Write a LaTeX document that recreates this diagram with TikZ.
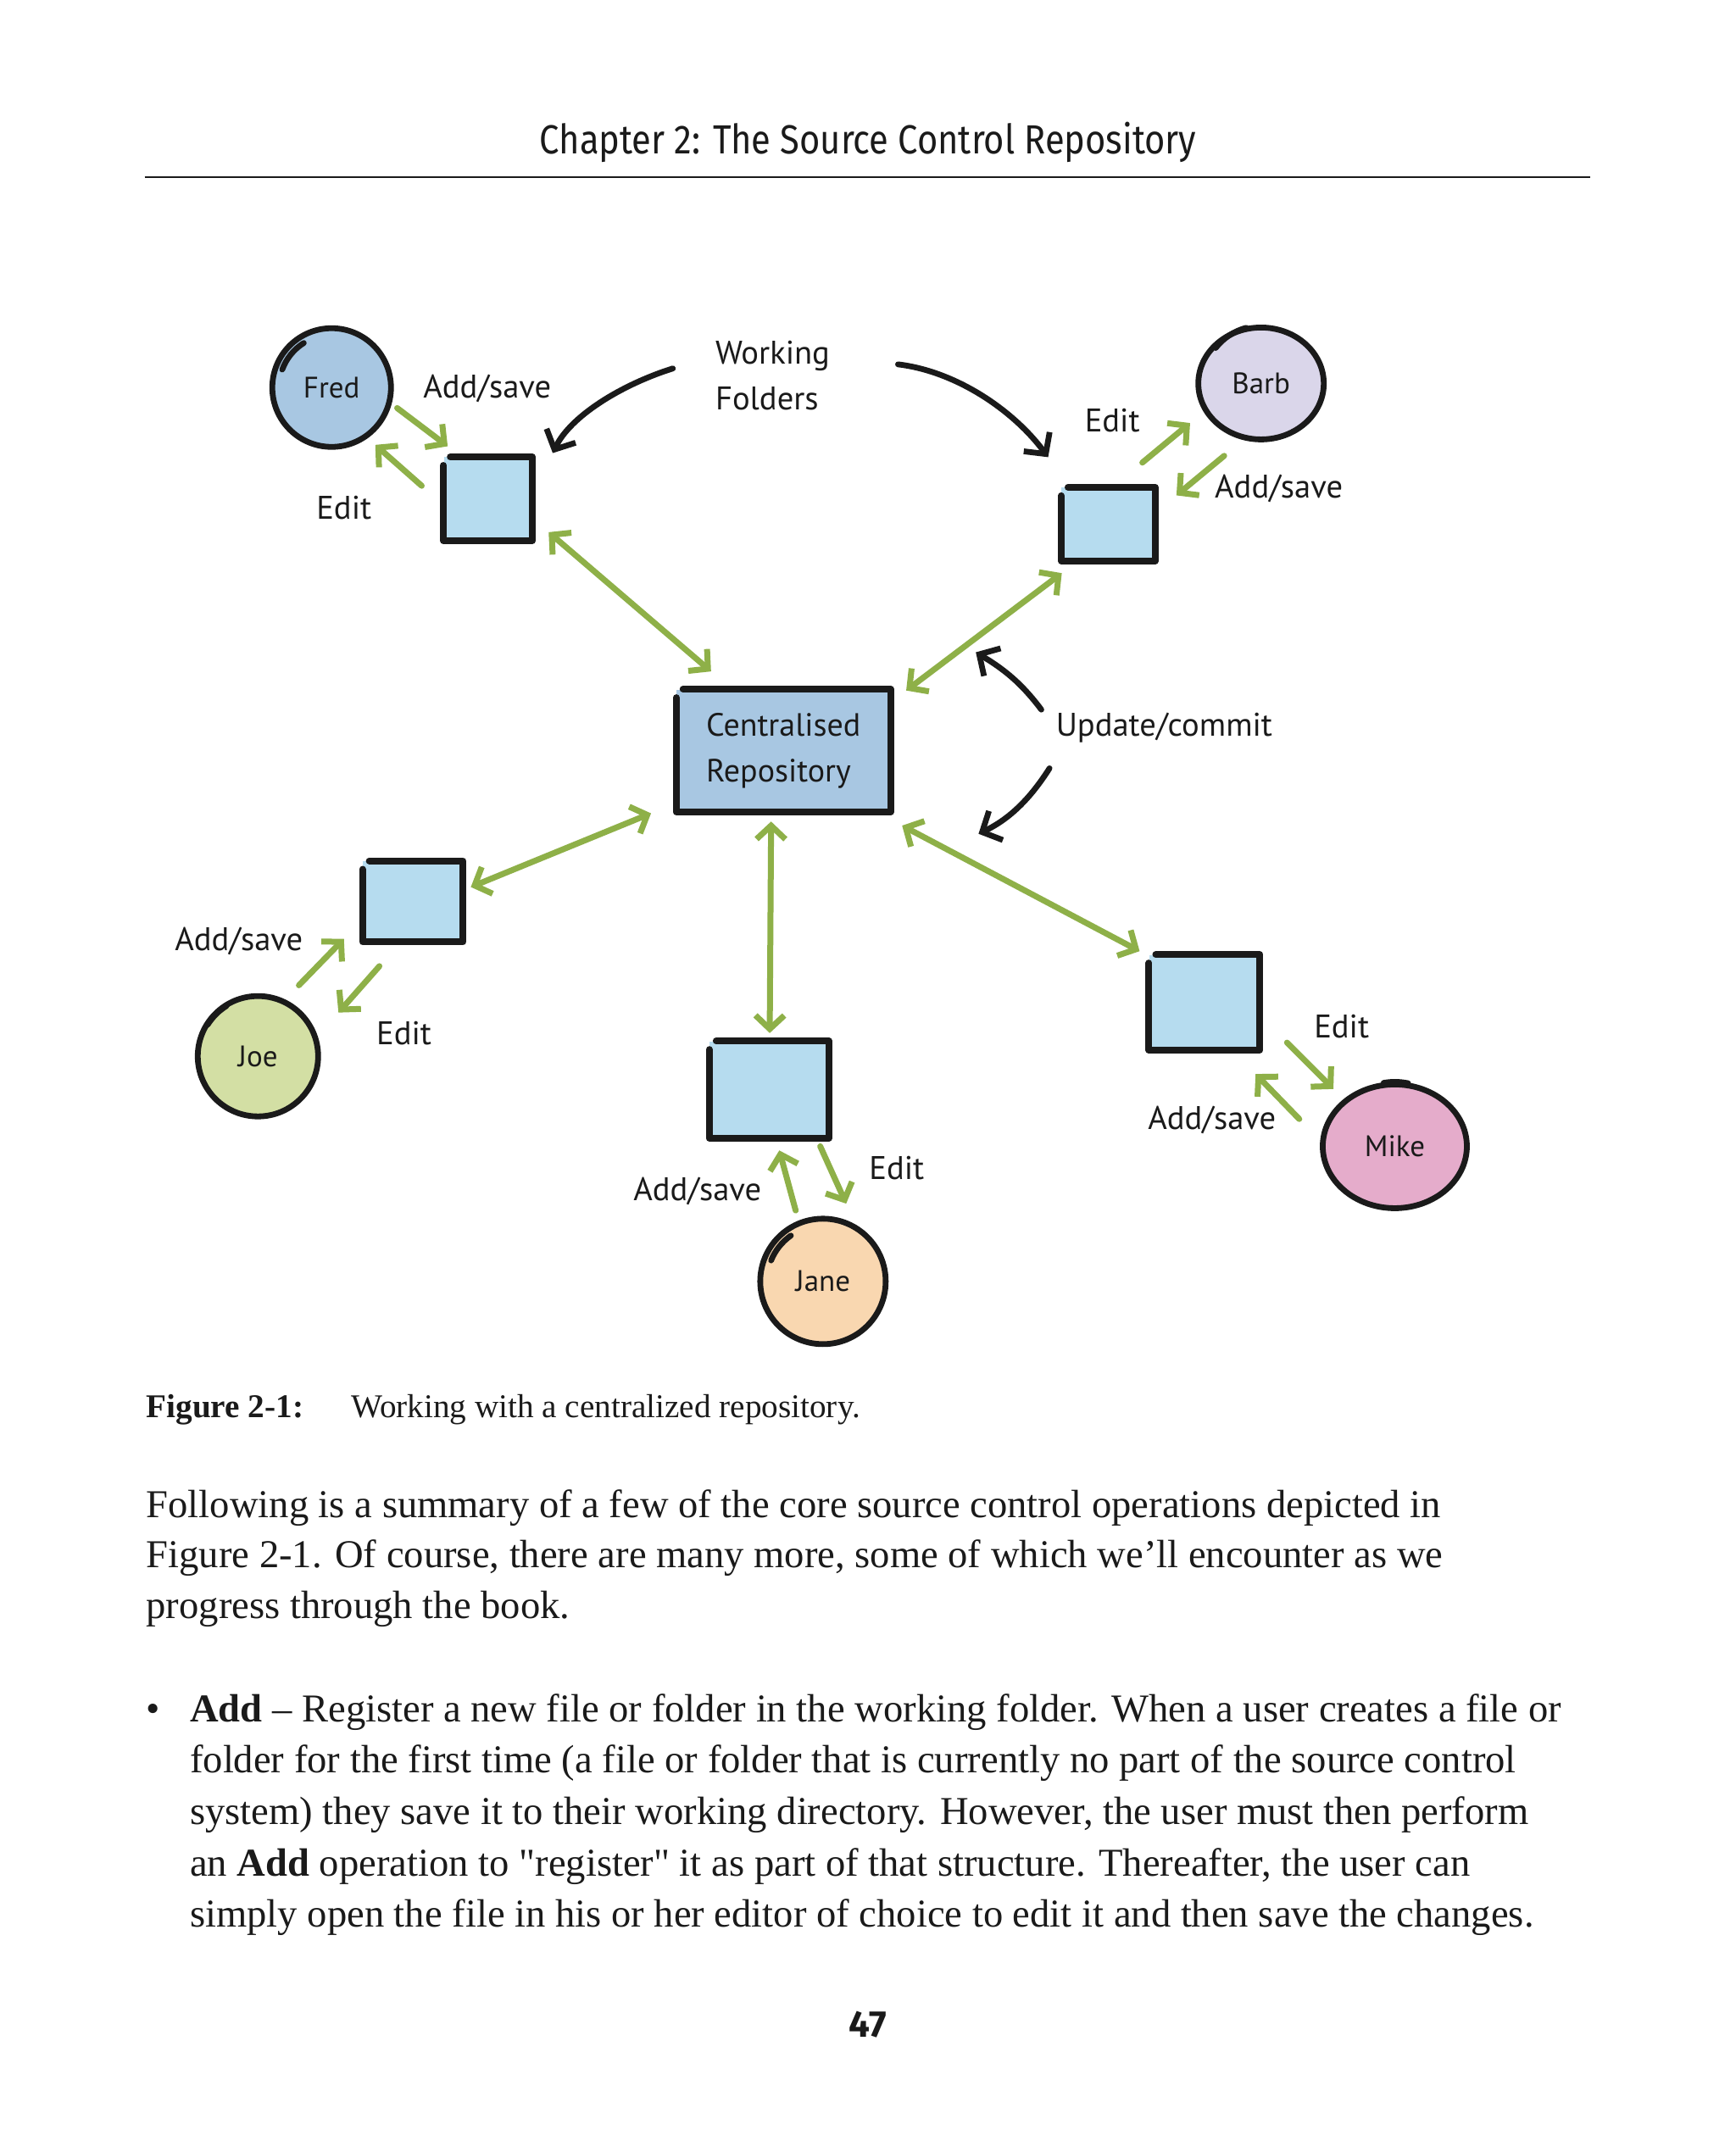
\documentclass[tikz,border=0pt]{standalone}
\usepackage{fontspec}
\setmainfont{Liberation Serif}
\newfontfamily\handfont{PT Sans}
\newfontfamily\headfont{Fira Sans}
\usetikzlibrary{arrows.meta,shapes.geometric}
\definecolor{grn}{RGB}{142,176,72}
\definecolor{repoblue}{RGB}{168,199,226}
\definecolor{fredc}{RGB}{168,199,226}
\definecolor{wfblue}{RGB}{182,220,239}
\definecolor{barbc}{RGB}{218,214,234}
\definecolor{joec}{RGB}{211,223,164}
\definecolor{janec}{RGB}{249,215,176}
\definecolor{mikec}{RGB}{229,172,203}
\definecolor{ink}{RGB}{26,26,26}
\newcommand\bodyfs{\fontsize{23.3}{27}\selectfont}
\newcommand\capfs{\fontsize{19.6}{23}\selectfont}
\newcommand\sq{\XeTeXglyph\XeTeXcharglyph"0022\relax}
\begin{document}
\begin{tikzpicture}[x=0.805pt,y=-0.805pt,
  wfbox/.style={fill=wfblue, inner sep=0pt},
  boxline/.style={draw=ink, line width=4pt, line cap=round, line join=round},
  person/.style={circle, draw=ink, line width=3.4pt, inner sep=0pt, text=ink, font=\handfont\fontsize{17.5}{20}\selectfont},
  lbl/.style={font=\handfont\fontsize{19.3}{27}\selectfont, text=ink, inner sep=0pt},
  garr/.style={draw=grn, line width=3.5pt, line cap=round, -{Straight Barb[length=8pt,width=17pt]}},
  gdbl/.style={draw=grn, line width=3.5pt, line cap=round, {Straight Barb[length=8pt,width=17pt]}-{Straight Barb[length=8pt,width=17pt]}},
  barr/.style={draw=ink, line width=3.4pt, line cap=round, -{Straight Barb[length=9pt,width=19pt]}},
  tail/.style={draw=ink, line width=3.4pt, line cap=round},
  body/.style={anchor=base west, inner sep=0pt, text=ink, font=\bodyfs}
]
\useasboundingbox[fill=white] (0,0) rectangle (1272,1568.9);

% header
\node[anchor=base, inner sep=0pt, text=ink, font=\headfont\fontsize{24}{28}\selectfont] (hdr) at (636,113)
  {\scalebox{0.868}[1]{Chapter 2: The Source Control Repository}};
\draw[ink, line width=1.2pt] (106,130) coordinate (r1) -- (1165,130) coordinate (r2);

% people
\node[person, fill=fredc, minimum size=70pt] (fred) at (243,284) {Fred};
\node[person, ellipse, fill=barbc, minimum width=74pt, minimum height=66pt] (barb) at (924,281) {Barb};
\node[person, fill=joec, minimum size=71pt] (joe) at (189,774) {Joe};
\node[person, fill=janec, minimum size=74pt] (jane) at (603,939) {Jane};
\node[person, ellipse, fill=mikec, minimum width=85pt, minimum height=73pt] (mike) at (1022,840) {Mike};

% tails of the hand-drawn circles
\draw[tail] ([shift={(160:31pt)}]fred.center) arc[start angle=160, end angle=122, radius=31pt];
\draw[tail] ([shift={(142:34pt)}]barb.center) arc[start angle=142, end angle=105, radius=34pt];
\draw[tail] ([shift={(148:35pt)}]joe.center) arc[start angle=148, end angle=122, radius=35pt];
\draw[tail] ([shift={(158:33pt)}]jane.center) arc[start angle=158, end angle=125, radius=33pt];
\draw[tail] ([shift={(100:38pt)}]mike.center) arc[start angle=100, end angle=78, radius=38pt];

% working folders and repository
\node[wfbox, minimum width=52pt, minimum height=49pt] (wfred) at (357.5,365.5) {};
\node[wfbox, minimum width=55pt, minimum height=43pt] (wbarb) at (812,384) {};
\node[wfbox, fill=repoblue, minimum width=126pt, minimum height=72pt, align=left, text=ink,
      font=\handfont\fontsize{19}{27}\selectfont] (repo) at (574,550) {Centralised\\Repository};
\node[wfbox, minimum width=59pt, minimum height=47.5pt] (wjoe) at (302.5,660.5) {};
\node[wfbox, minimum width=70pt, minimum height=57pt] (wjane) at (563.5,798.5) {};
\node[wfbox, minimum width=65pt, minimum height=56pt] (wmike) at (882.5,734.5) {};
\foreach \b in {wfred,wbarb,repo,wjoe,wjane,wmike}{
  \draw[boxline] ([xshift=4pt]\b.north west) -- (\b.north east) -- (\b.south east)
    -- (\b.south west) -- ([yshift=-5pt]\b.north west);
}

% labels
\node[lbl] (lfa) at (357,285) {Add/save};
\node[lbl] (lfe) at (252,372) {Edit};
\node[lbl, align=left, anchor=west] (lwf) at (524,275) {Working\\Folders};
\node[lbl] (lbe) at (815,308) {Edit};
\node[lbl] (lba) at (937,358) {Add/save};
\node[lbl] (luc) at (853,533) {Update/commit};
\node[lbl] (lja) at (175,690) {Add/save};
\node[lbl] (lje) at (296,757) {Edit};
\node[lbl] (lna) at (511,873) {Add/save};
\node[lbl] (lne) at (657,856) {Edit};
\node[lbl] (lme) at (983,752) {Edit};
\node[lbl] (lma) at (888,821) {Add/save};

% arrow end points
\coordinate (fa1) at (291,299); \coordinate (fa2) at (328,327);
\coordinate (fe1) at (309,356); \coordinate (fe2) at (275,326);
\coordinate (wl1) at (493,270); \coordinate (wl2) at (405,332);
\coordinate (wr1) at (658,267); \coordinate (wr2) at (768,335);
\coordinate (be1) at (837,339); \coordinate (be2) at (872,310);
\coordinate (ba1) at (897,334); \coordinate (ba2) at (862,363);
\coordinate (c1a) at (402,390); \coordinate (c1b) at (521,492);
\coordinate (c2a) at (778,420); \coordinate (c2b) at (664,506);
\coordinate (c3a) at (477,596); \coordinate (c3b) at (345,650);
\coordinate (c4a) at (565,602); \coordinate (c4b) at (564,757);
\coordinate (c5a) at (661,605); \coordinate (c5b) at (835,697);
\coordinate (u1) at (763,520); \coordinate (u2) at (715,478);
\coordinate (u3) at (769,563); \coordinate (u4) at (717,611);
\coordinate (ja1) at (219,722); \coordinate (ja2) at (252,688);
\coordinate (je1) at (278,708); \coordinate (je2) at (248,742);
\coordinate (na1) at (583,887); \coordinate (na2) at (571,843);
\coordinate (ne1) at (601,840); \coordinate (ne2) at (620,882);
\coordinate (me1) at (943,764); \coordinate (me2) at (977,798);
\coordinate (ma1) at (952,820); \coordinate (ma2) at (920,787);

% green arrows
\draw[garr] (fa1) -- (fa2);
\draw[garr] (fe1) -- (fe2);
\draw[garr] (be1) -- (be2);
\draw[garr] (ba1) -- (ba2);
\draw[garr] (ja1) -- (ja2);
\draw[garr] (je1) -- (je2);
\draw[garr] (na1) -- (na2);
\draw[garr] (ne1) -- (ne2);
\draw[garr] (me1) -- (me2);
\draw[garr] (ma1) -- (ma2);
\draw[gdbl] (c1a) -- (c1b);
\draw[gdbl] (c2a) -- (c2b);
\draw[gdbl] (c3a) -- (c3b);
\draw[gdbl] (c4a) -- (c4b);
\draw[gdbl] (c5a) -- (c5b);

% black arrows
\draw[barr] (wl1) .. controls (455,282) and (418,305) .. (wl2);
\draw[barr] (wr1) .. controls (700,272) and (742,300) .. (wr2);
\draw[barr] (u1) .. controls (748,500) and (735,490) .. (u2);
\draw[barr] (u3) .. controls (755,585) and (740,600) .. (u4);

% caption
\node[anchor=base west, inner sep=0pt, text=ink, font=\capfs\bfseries] (capl) at (107,1039) {Figure 2-1:};
\node[anchor=base west, inner sep=0pt, text=ink, font=\capfs] (capt) at (257,1039) {Working with a centralized repository.};

% body text
\node[body] (b1) at (107,1112) {Following is a summary of a few of the core source control operations depicted in};
\node[body] (b2) at (107,1149) {Figure 2-1. Of course, there are many more, some of which we'll encounter as we};
\node[body] (b3) at (107,1186) {progress through the book.};
\node[body] (bul) at (107,1262) {\textbullet};
\node[body] (d1) at (139,1262) {\textbf{Add} -- Register a new file or folder in the working folder. When a user creates a file or};
\node[body] (d2) at (139,1299) {folder for the first time (a file or folder that is currently no part of the source control};
\node[body] (d3) at (139,1337) {system) they save it to their working directory. However, the user must then perform};
\node[body] (d4) at (139,1374.5) {an \textbf{Add} operation to \sq register\sq{} it as part of that structure. Thereafter, the user can};
\node[body] (d5) at (139,1412) {simply open the file in his or her editor of choice to edit it and then save the changes.};

% page number
\node[anchor=base, inner sep=0pt, text=ink, font=\headfont\bfseries\fontsize{22}{26}\selectfont] (pg) at (636,1493) {47};
\end{tikzpicture}
\end{document}
